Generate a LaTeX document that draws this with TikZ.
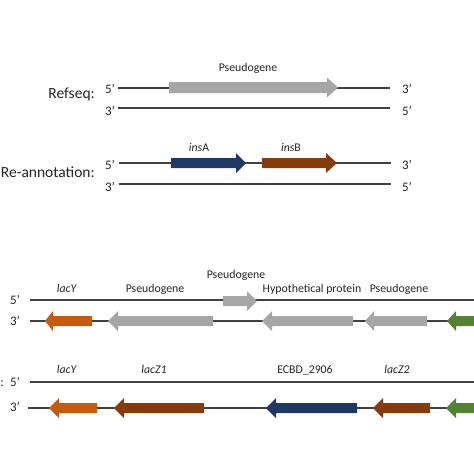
\documentclass[tikz,border=0pt]{standalone}
\usepackage{fontspec}
\setmainfont{Carlito}
\definecolor{txt}{HTML}{262626}
\definecolor{strandc}{HTML}{404040}
\definecolor{ggray}{HTML}{A6A6A6}
\definecolor{gnavy}{HTML}{203864}
\definecolor{gbrown}{HTML}{843C0C}
\definecolor{gorange}{HTML}{C55A11}
\definecolor{ggreen}{HTML}{548235}
% #1 colour, #2 y, #3 tail x, #4 head base x, #5 tip x, #6 body half height, #7 head half height
\newcommand{\genearr}[7]{\fill[#1] (#3,#2-#6) -- (#4,#2-#6) -- (#4,#2-#7) -- (#5,#2) -- (#4,#2+#7) -- (#4,#2+#6) -- (#3,#2+#6) -- cycle;}
\begin{document}
\begin{tikzpicture}[x=1pt,y=-1pt,
  strand/.style={draw=strandc,line width=1.1pt},
  lbl/.style={font=\fontsize{11.8}{14}\selectfont,text=txt,inner sep=0pt,anchor=base},
  endlbl/.style={font=\fontsize{13}{15}\selectfont,text=txt,inner sep=0pt,anchor=base},
  title/.style={font=\fontsize{15.5}{18}\selectfont,text=txt,inner sep=0pt,anchor=base east}]
\useasboundingbox (0,0) rectangle (474,474);
\fill[white] (0,0) rectangle (474,474);
\clip (0,0) rectangle (474,474);

% ---------- Refseq ----------
\node[title] (t1) at (95,98.3) {Refseq:};
\coordinate (r1a) at (118,88); \coordinate (r1b) at (390,88);
\coordinate (r2a) at (118,108); \coordinate (r2b) at (390,108);
\draw[strand] (r1a) -- (r1b);
\draw[strand] (r2a) -- (r2b);
\node[endlbl] (r5l) at (110,93.5) {5’};
\node[endlbl] (r3r) at (407,93.5) {3’};
\node[endlbl] (r3l) at (110,115.5) {3’};
\node[endlbl] (r5r) at (407,115.5) {5’};
\genearr{ggray}{87.5}{169}{327}{338}{5.5}{10}
\node[lbl] (p0) at (248,71.5) {Pseudogene};

% ---------- Re-annotation ----------
\node[title] (t2) at (95,177.7) {Re-annotation:};
\coordinate (a1a) at (119,163); \coordinate (a1b) at (391,163);
\coordinate (a2a) at (119,184); \coordinate (a2b) at (391,184);
\draw[strand] (a1a) -- (a1b);
\draw[strand] (a2a) -- (a2b);
\node[endlbl] (a5l) at (110,169) {5’};
\node[endlbl] (a3r) at (407,169) {3’};
\node[endlbl] (a3l) at (110,191) {3’};
\node[endlbl] (a5r) at (407,191) {5’};
\genearr{gnavy}{163}{171}{236}{246}{5}{10}
\genearr{gbrown}{163}{262}{326}{337}{5}{10}
\node[lbl] (insA) at (199,151.7) {\textit{ins}A};
\node[lbl] (insB) at (291,151.7) {\textit{ins}B};

% ---------- third block ----------
\coordinate (b1a) at (30,300); \coordinate (b1b) at (480,300);
\coordinate (b2a) at (30,321); \coordinate (b2b) at (480,321);
\draw[strand] (b1a) -- (b1b);
\draw[strand] (b2a) -- (b2b);
\node[endlbl] (b5) at (15,304) {5’};
\node[endlbl] (b3) at (15,325.7) {3’};
\genearr{gorange}{321}{92}{53}{45}{5}{10}
\genearr{ggray}{321}{213}{118}{108}{5}{10}
\genearr{ggray}{301}{223}{247}{257}{5}{10}
\genearr{ggray}{321}{353}{272}{262}{5}{10}
\genearr{ggray}{321}{427}{374}{365}{5}{10}
\genearr{ggreen}{321}{490}{456}{447}{5}{10}
\node[lbl] (bl1) at (67,292) {\textit{lacY}};
\node[lbl] (bl2) at (155,292) {Pseudogene};
\node[lbl] (bl3) at (236,278) {Pseudogene};
\node[lbl] (bl4) at (312,292) {Hypothetical protein};
\node[lbl] (bl5) at (399,292) {Pseudogene};

% ---------- fourth block ----------
\node[endlbl,anchor=base] (c0) at (2,386) {:};
\coordinate (c1a) at (30,382); \coordinate (c1b) at (480,382);
\coordinate (c2a) at (28,408); \coordinate (c2b) at (480,408);
\draw[strand] (c1a) -- (c1b);
\draw[strand] (c2a) -- (c2b);
\node[endlbl] (c5) at (15,386) {5’};
\node[endlbl] (c3) at (15,411.7) {3’};
\genearr{gorange}{408}{97}{59}{49}{5}{10}
\genearr{gbrown}{408}{204}{124}{114}{5}{10}
\genearr{gnavy}{408}{357}{276}{266}{5}{10}
\genearr{gbrown}{408}{430}{383}{373}{5}{10}
\genearr{ggreen}{408}{490}{456}{446}{5}{10}
\node[lbl] (cl1) at (67,373.3) {\textit{lacY}};
\node[lbl] (cl2) at (154,373.3) {\textit{lacZ1}};
\node[lbl] (cl3) at (305,373.3) {ECBD\_2906};
\node[lbl] (cl4) at (397,373.3) {\textit{lacZ2}};
\end{tikzpicture}
\end{document}
